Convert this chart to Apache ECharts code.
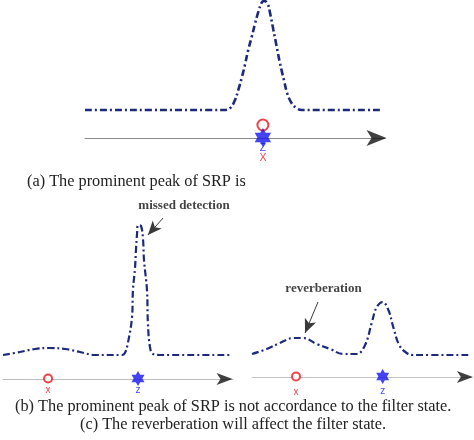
<!DOCTYPE html>
<html>
<head>
<meta charset="utf-8">
<script src="https://cdn.jsdelivr.net/npm/echarts@6/dist/echarts.min.js"></script>
<style>
html, body { margin: 0; padding: 0; background: #fff; }
#chart { width: 474px; height: 440px; }
</style>
</head>
<body>
<div id="chart"></div>
<script>
var chart = echarts.init(document.getElementById('chart'));

// SRP curves, [position, response], one per panel
var srpA = [[0, 28], [46, 28], [48.3, 29.7], [50, 38], [51.1, 48], [52.2, 59.7], [53.3, 73], [54.4, 88],
    [55.6, 101.3], [56.7, 114.7], [57.8, 126.3], [58.9, 135.3], [59.7, 137], [60.8, 134.7], [61.7, 124.7],
    [62.8, 108], [63.9, 91.3], [65, 74.7], [66.3, 58], [67.4, 44.7], [68.9, 34.7], [70.6, 29.7],
    [72.2, 28], [99.3, 28]];
var srpB = [[0, 24], [7.4, 27], [13.9, 30], [20.4, 31], [27, 30], [33.5, 27], [40, 24], [51.7, 24],
    [53, 26], [54.3, 36], [56.1, 62], [56.5, 89], [57.4, 111], [57.8, 129], [58.3, 146], [58.7, 154],
    [60, 153], [60.9, 139], [61.3, 119], [62.6, 89], [63, 56], [63.9, 32], [65.2, 25], [68.3, 24], [98.7, 24]];
var srpC = [[0, 23], [6.7, 28], [12.7, 34], [18.8, 39], [23.3, 39], [29.4, 33], [35.5, 28], [41.5, 23],
    [47.6, 23], [51.4, 32], [54.4, 54], [56.7, 70], [59.4, 75], [62, 67], [64.2, 50], [66.9, 32],
    [70.3, 24], [73.3, 22], [99, 22]];

// filter state (circle) and measurement (star) on each axis
var stateX = [59.3, 19.6, 20];
var stateY = [13, 0.5, 0.5];
var measZ = [59.3, 58.7, 59.4];
var stateLabels = ['X', 'x', 'x'];
var measLabels = ['Z', 'z', 'z'];
var arrowX = [100.5, 99.8, 100.4];

// annotations: text position, arrow start, arrow tip
var notes = [
    { panel: 1, text: 'missed detection', at: [78.7, 173], from: [69.6, 161], to: [63, 144] },
    { panel: 2, text: 'reverberation', at: [32.5, 88], from: [30, 75], to: [24.1, 44] }
];

var captions = [
    '(a) The prominent peak of SRP is',
    '(b) The prominent peak of SRP is not accordance to the filter state.',
    '(c) The reverberation will affect the filter state.'
];

var hexagram = 'path://M0,-10L2.89,-5L8.66,-5L5.77,0L8.66,5L2.89,5L0,10L-2.89,5L-8.66,5L-5.77,0L-8.66,-5L-2.89,-5Z';

var panels = [
    { grid: { left: 85, top: 0, width: 300, height: 180 }, ymin: -42, ymax: 138, lw: 2.6,
      circle: 11, star: 19, arrow: [12, 20], lblSize: 10.5, dX: 21, dZ: -4 },
    { grid: { left: 3, top: 190, width: 230, height: 210 }, ymin: -21, ymax: 189, lw: 2.2,
      circle: 8, star: 15, arrow: [9, 16], lblSize: 10, dX: 2, dZ: -1 },
    { grid: { left: 252, top: 250, width: 220, height: 150 }, ymin: -23, ymax: 127, lw: 2.2,
      circle: 8, star: 15, arrow: [9, 16], lblSize: 10, dX: 6, dZ: 2 }
];
var curves = [srpA, srpB, srpC];
var axisGray = ['#8a8a8a', '#bdbdbd', '#c4c4c4'];

var grids = [], xAxes = [], yAxes = [], series = [];

panels.forEach(function (p, i) {
    grids.push(p.grid);
    xAxes.push({
        gridIndex: i, type: 'value', min: 0, max: 100,
        axisLine: { show: true, onZero: true, lineStyle: { color: axisGray[i], width: 1 } },
        axisTick: { show: false }, axisLabel: { show: false }, splitLine: { show: false }
    });
    yAxes.push({ gridIndex: i, type: 'value', min: p.ymin, max: p.ymax, show: false, splitLine: { show: false } });

    series.push({
        type: 'line', xAxisIndex: i, yAxisIndex: i, data: curves[i],
        showSymbol: false, smooth: 0.4, silent: true,
        lineStyle: { color: '#1c2a7c', width: p.lw, type: [7, 3, 2, 3] }
    });
    // arrow head of the axis
    series.push({
        type: 'scatter', xAxisIndex: i, yAxisIndex: i, data: [[arrowX[i], 0]], clip: false,
        symbol: 'arrow', symbolRotate: -90, symbolSize: p.arrow, silent: true,
        itemStyle: { color: '#111' }
    });
    series.push({
        type: 'scatter', xAxisIndex: i, yAxisIndex: i, data: [[stateX[i], stateY[i]]],
        symbol: 'emptyCircle', symbolSize: p.circle, silent: true,
        itemStyle: { color: '#e8141c', borderWidth: 2.6 },
        label: { show: true, position: 'bottom', distance: p.dX, formatter: stateLabels[i],
                 color: '#e8141c', fontSize: p.lblSize, fontFamily: 'Liberation Sans' }
    });
    series.push({
        type: 'scatter', xAxisIndex: i, yAxisIndex: i, data: [[measZ[i], 0.5]],
        symbol: hexagram, symbolKeepAspect: true, symbolSize: p.star, silent: true,
        itemStyle: { color: '#1414f0' },
        label: { show: true, position: 'bottom', distance: p.dZ, formatter: measLabels[i],
                 color: '#1414f0', fontSize: p.lblSize, fontFamily: 'Liberation Sans' }
    });
});

notes.forEach(function (n) {
    series.push({
        type: 'scatter', xAxisIndex: n.panel, yAxisIndex: n.panel, data: [n.at],
        symbolSize: 0, silent: true,
        label: { show: true, position: 'inside', formatter: n.text, color: '#111',
                 fontSize: 13, fontWeight: 'bold', fontFamily: 'Liberation Serif' },
        markLine: {
            silent: true, symbol: ['none', 'arrow'], symbolSize: [9, 14],
            label: { show: false },
            lineStyle: { color: '#3a3a3a', width: 1, type: 'solid' },
            data: [[{ coord: n.from }, { coord: n.to }]]
        }
    });
});

var capStyle = { fontFamily: 'Liberation Serif', fontSize: 16.3, fontWeight: 'normal', color: '#222', lineHeight: 18 };

var option = {
    backgroundColor: '#fff',
    animation: false,
    title: [
        { text: captions[0], left: 27, top: 173, padding: 0, textStyle: capStyle },
        { text: captions[1], left: 15, top: 398, padding: 0, textStyle: capStyle },
        { text: captions[2], left: 80, top: 416, padding: 0, textStyle: capStyle }
    ],
    grid: grids,
    xAxis: xAxes,
    yAxis: yAxes,
    series: series
};

chart.setOption(option);
</script>
</body>
</html>
